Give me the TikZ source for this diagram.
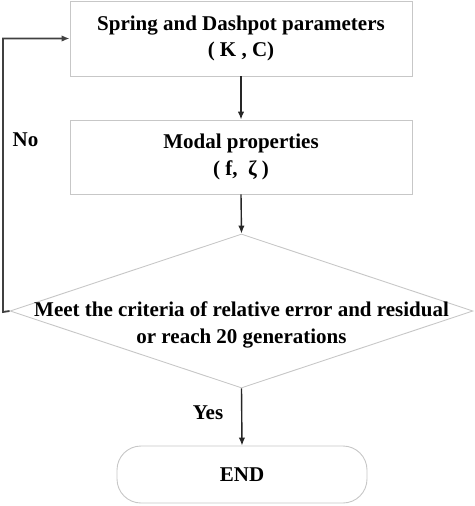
\documentclass[tikz,border=0pt]{standalone}
\usepackage{fontspec}
\setmainfont{Liberation Serif}
\usetikzlibrary{shapes.geometric,arrows.meta}
\begin{document}
\begin{tikzpicture}[x=1pt,y=-1pt,
  every node/.style={font=\fontsize{21}{26.5}\selectfont\bfseries},
  boxst/.style={draw=black!22,line width=0.9pt,rectangle,minimum width=342pt,inner sep=0pt,align=center},
  diast/.style={draw=black!22,line width=0.9pt,diamond,minimum width=463pt,minimum height=154pt,inner sep=0pt},
  endst/.style={draw=black!22,line width=0.9pt,rectangle,rounded corners=24pt,minimum width=250pt,minimum height=57pt,inner sep=0pt},
  arr/.style={draw=black!85,line width=1.4pt,-{Latex[length=8pt,width=6.5pt]}},
  lab/.style={inner sep=0pt}]
\useasboundingbox (0,0) rectangle (474,506);
\node[boxst,minimum height=75pt] (b1) at (241,38.5) {Spring and Dashpot parameters\\( K , C)};
\node[boxst,minimum height=74pt] (b2) at (241,157) {Modal properties\\( f,\ \ ζ )};
\node[diast] (d) at (241.5,311) {};
\node[lab,align=center] (dt) at (241.5,325) {Meet the criteria of relative error and residual\\or reach 20 generations};
\node[endst] (e) at (242,474.5) {END};
\node[lab] (no) at (25.5,140) {No};
\node[lab] (yes) at (208,413) {Yes};
\coordinate (c1) at (3,312);
\coordinate (c2) at (3,38.5);
\draw[arr] (b1.south) -- (b2.north);
\draw[arr] (b2.south) -- (d.north);
\draw[arr] (d.south) -- (e.north);
\draw[arr,line width=1.8pt,draw=black!75] (d.west) -- (c1) -- (c2) -- (b1.west);
\end{tikzpicture}
\end{document}
